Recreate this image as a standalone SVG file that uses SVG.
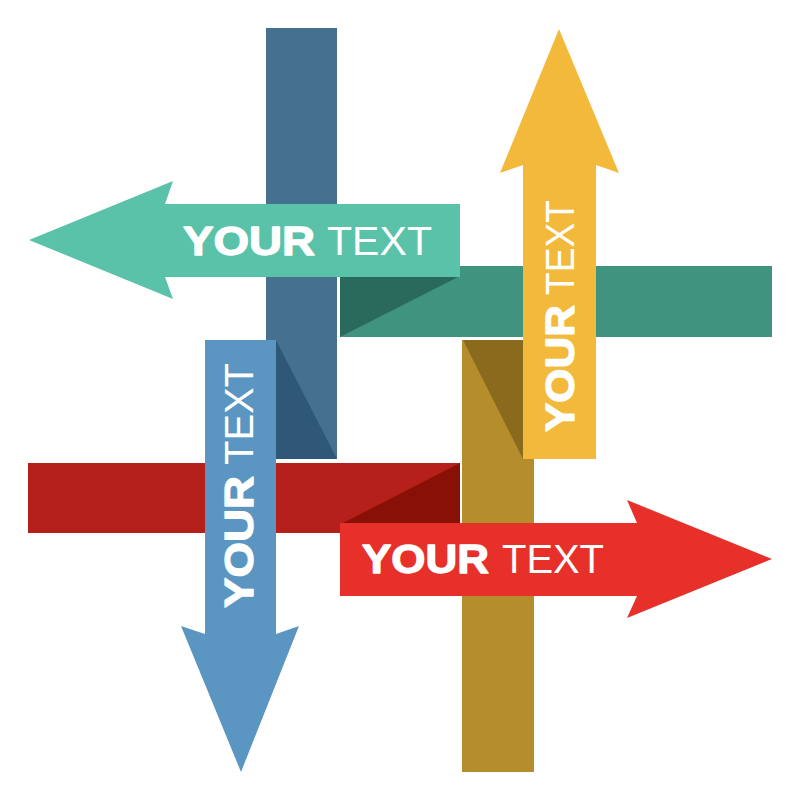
<svg xmlns="http://www.w3.org/2000/svg" width="800" height="800" viewBox="0 0 800 800">
<style>
.t{font-family:"Liberation Sans",Arial,sans-serif;font-size:41px;fill:#ffffff}
.b{font-weight:bold;stroke:#ffffff;stroke-width:1.3px;stroke-linejoin:round}
</style>
<rect width="800" height="800" fill="#ffffff"/>
<g id="blue-band">
<rect x="266" y="28" width="71" height="431" fill="#45708f"/>
<polygon points="276,340 337,459 276,459" fill="#2f5878"/>
</g>
<g id="teal-band">
<rect x="340" y="266" width="432" height="71" fill="#40947f"/>
<polygon points="340,276 460,276 340,337" fill="#2a6a5c"/>
</g>
<g id="red-band">
<rect x="28" y="463" width="432" height="70" fill="#b5201b"/>
<polygon points="460,463 460,523 343,523" fill="#881006"/>
</g>
<g id="gold-band">
<rect x="462" y="340" width="72" height="432" fill="#b58d2c"/>
<polygon points="463,340 523,340 523,459" fill="#8a6a1c"/>
</g>
<g id="teal-arrow">
<polygon points="460,204 165,204 173,181 29,240 173,299 165,277 460,277" fill="#5bc2aa"/>
<text class="t b" x="183" y="255" font-size="43" textLength="132" lengthAdjust="spacingAndGlyphs">YOUR</text>
<text class="t" x="327" y="255" font-size="43" textLength="105" lengthAdjust="spacingAndGlyphs">TEXT</text>
</g>
<g id="yellow-arrow">
<polygon points="523,459 523,165 500,173 559,29 619,173 596,165 596,459" fill="#f3b93b"/>
<g transform="translate(574,432) rotate(-90)">
<text class="t b" x="0" y="0" textLength="127" lengthAdjust="spacingAndGlyphs">YOUR</text>
<text class="t" x="137" y="0" textLength="95" lengthAdjust="spacingAndGlyphs">TEXT</text>
</g>
</g>
<g id="blue-arrow">
<polygon points="205,340 276,340 276,634 299,626 241,772 181,626 205,634" fill="#5b96c2"/>
<g transform="translate(253,608) rotate(-90)">
<text class="t b" x="0" y="0" textLength="132" lengthAdjust="spacingAndGlyphs">YOUR</text>
<text class="t" x="143" y="0" textLength="102" lengthAdjust="spacingAndGlyphs">TEXT</text>
</g>
</g>
<g id="red-arrow">
<polygon points="340,523 637,523 627,500 772,559 627,618 637,596 340,596" fill="#e8302a"/>
<text class="t b" x="362" y="573" textLength="127" lengthAdjust="spacingAndGlyphs">YOUR</text>
<text class="t" x="502" y="573" textLength="102" lengthAdjust="spacingAndGlyphs">TEXT</text>
</g>
<g id="connectors"></g>
</svg>
